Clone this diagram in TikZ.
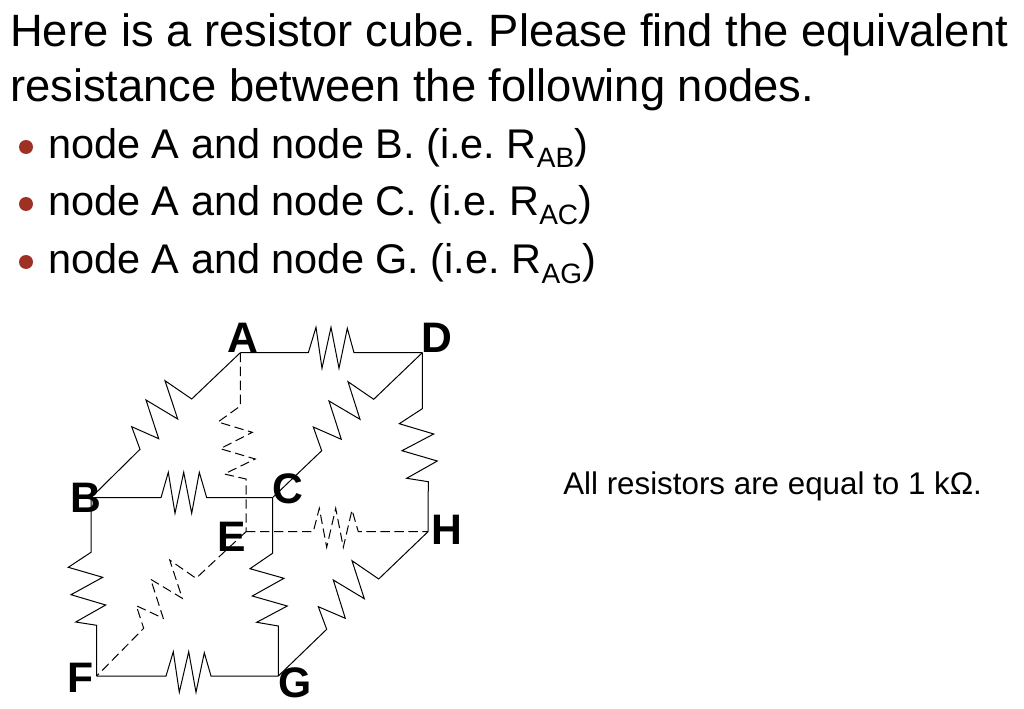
\documentclass[tikz,border=0pt]{standalone}
\usepackage{fontspec}
\setmainfont{Liberation Sans}
\definecolor{bulletred}{RGB}{158,48,36}
\tikzset{
  x=0.75pt,y=-0.75pt,
  wire/.style={draw=black,line width=0.75pt,line join=miter},
  hidden/.style={wire,dash pattern=on 7pt off 3.5pt},
  lab/.style={font=\fontsize{32}{32}\selectfont\bfseries,inner sep=0pt,anchor=center},
  head/.style={font=\fontsize{34}{40}\selectfont\frenchspacing,inner sep=0pt,anchor=base west},
  item/.style={font=\fontsize{31.1}{36}\selectfont\frenchspacing,inner sep=0pt,anchor=base west},
  dot/.style={circle,fill=bulletred,inner sep=0pt,minimum size=10.5pt},
  note/.style={font=\fontsize{23.5}{28}\selectfont\frenchspacing,inner sep=0pt,anchor=base west}
}
\newcommand{\sub}[1]{\raisebox{-6.75pt}{\fontsize{21}{24}\selectfont #1}}
\begin{document}
\begin{tikzpicture}
\useasboundingbox (0,0) rectangle (1024,709);
\fill[white] (0,0) rectangle (1024,709);
\node[head] (t1) at (10,47) {Here is a resistor cube. Please find the equivalent};
\node[head] (t2) at (10,102) {resistance between the following nodes.};
\node[dot] (b1) at (26,147) {};
\node[dot] (b2) at (26,204) {};
\node[dot] (b3) at (26,262) {};
\node[item] (i1) at (48,159) {node A and node B. (i.e. R\sub{AB})};
\node[item] (i2) at (48,216) {node A and node C. (i.e. R\sub{AC})};
\node[item] (i3) at (48,274) {node A and node G. (i.e. R\sub{AG})};
\node[note] (n) at (563,494) {All resistors are equal to 1 kΩ.};
\coordinate (A) at (240.3,352.7);
\coordinate (D) at (422.3,352.7);
\coordinate (B) at (91,497.7);
\coordinate (C) at (272.5,497.7);
\coordinate (E) at (246,531.7);
\coordinate (H) at (428,531.7);
\coordinate (F) at (96.7,676);
\coordinate (G) at (278.3,676);
% solid resistors
\draw[wire] (A) -- (191.7,399) -- (165,380.7) -- (177.7,419) -- (146,400) -- (158.7,438.7) -- (131.7,426.7) -- (140,449.3) -- (B);
\draw[wire] (A) -- (308.3,352.7) -- (316,327.3) -- (322,368.3) -- (331,327.3) -- (339,368.3) -- (347.3,328.3) -- (354,352.7) -- (D);
\draw[wire] (D) -- (373.7,399.3) -- (348,381.7) -- (360,419.3) -- (329,401) -- (341.3,439.3) -- (313.3,427) -- (321.7,450.7) -- (C);
\draw[wire] (D) -- (422.3,408.7) -- (399.3,423.7) -- (433.7,434) -- (402,450.7) -- (437.3,461) -- (406.7,478.3) -- (428.3,481.7) -- (H);
\draw[wire] (B) -- (161,497.7) -- (168.3,472.3) -- (175,513.3) -- (183.7,472.3) -- (191.7,513.3) -- (199.3,472.3) -- (206.7,497.7) -- (C);
\draw[wire] (B) -- (91,552.3) -- (68.3,567.3) -- (102.7,577.3) -- (71,594.7) -- (105.7,605) -- (75.7,622) -- (96.7,625.3) -- (F);
\draw[wire] (F) -- (166,676) -- (173.3,651.7) -- (179.3,692.3) -- (188.7,651.7) -- (196,692.3) -- (204.3,652.7) -- (211,676) -- (G);
\draw[wire] (C) -- (272.5,553.3) -- (250,568.7) -- (284,578.3) -- (252.3,596) -- (287.3,606) -- (256.7,622.3) -- (278.3,626) -- (G);
\draw[wire] (G) -- (326.7,629.3) -- (318.3,606.7) -- (345.3,618.3) -- (333.3,580) -- (364.3,598.7) -- (352,560.7) -- (378.7,579) -- (H);
% hidden resistors
\draw[hidden] (A) -- (240.3,406) -- (218,422) -- (252.3,432.3) -- (220.3,448.7) -- (255.3,459) -- (224.3,474) -- (246,479) -- (E);
\draw[hidden] (E) -- (313.3,531.7) -- (319.3,508.3) -- (326.7,547.3) -- (335.7,508.3) -- (343.3,547.3) -- (352,510) -- (358.3,531.7) -- (H);
\draw[hidden] (E) -- (196,578.3) -- (169.7,560) -- (182.3,598.3) -- (150.7,579.3) -- (163.3,618.3) -- (136.3,605.7) -- (143.7,628.3) -- (F);
% labels
\node[lab] (la) at (243,338) {A};
\node[lab] (ld) at (437,338) {D};
\node[lab] (lb) at (86,498) {B};
\node[lab] (lc) at (288,489) {C};
\node[lab] (le) at (232,537) {E};
\node[lab] (lh) at (447,530) {H};
\node[lab] (lf) at (81,678) {F};
\node[lab] (lg) at (295,683) {G};
\end{tikzpicture}
\end{document}
